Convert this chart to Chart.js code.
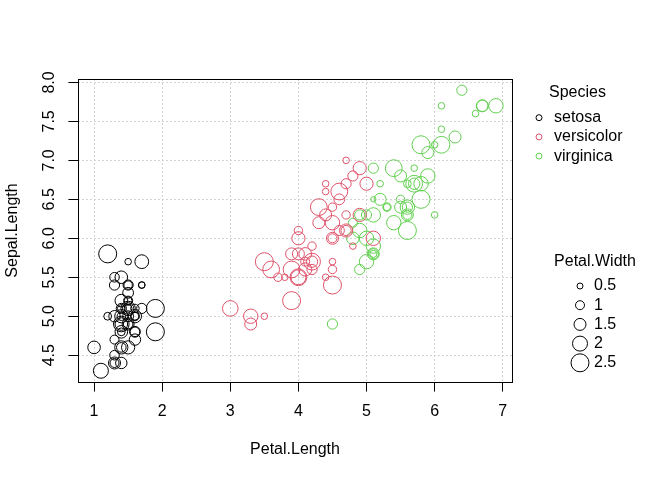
<!DOCTYPE html>
<html><head><meta charset="utf-8">
<script src="https://cdn.jsdelivr.net/npm/chart.js@4.4.0/dist/chart.umd.min.js"></script>
<style>html,body{margin:0;padding:0;background:#fff;}#wrap{width:672px;height:480px;}</style>
</head><body><div id="wrap"><canvas id="c" width="672" height="480"></canvas></div>
<script>
const speciesNames = ['setosa', 'versicolor', 'virginica'];
const speciesColors = ['#000000', '#DF536B', '#61D04F'];

const setosaPetalLength = [1.4,1.4,1.3,1.5,1.4,1.7,1.4,1.5,1.4,1.5,1.5,1.6,1.4,1.1,1.2,1.5,1.3,1.4,1.7,1.5,1.7,1.5,1.0,1.7,1.9,1.6,1.6,1.5,1.4,1.6,1.6,1.5,1.5,1.4,1.5,1.2,1.3,1.4,1.3,1.5,1.3,1.3,1.3,1.6,1.9,1.4,1.6,1.4,1.5,1.4];
const setosaSepalLength = [5.1,4.9,4.7,4.6,5.0,5.4,4.6,5.0,4.4,4.9,5.4,4.8,4.8,4.3,5.8,5.7,5.4,5.1,5.7,5.1,5.4,5.1,4.6,5.1,4.8,5.0,5.0,5.2,5.2,4.7,4.8,5.4,5.2,5.5,4.9,5.0,5.5,4.9,4.4,5.1,5.0,4.5,4.4,5.0,5.1,4.8,5.1,4.6,5.3,5.0];
const setosaSize = [1.2,1.6,1.0,1.7,1.7,0.6,1.7,1.3,1.4,1.1,1.2,1.1,0.8,2.0,2.5,0.6,1.2,0.8,1.8,1.4,0.6,1.9,1.6,1.2,2.5,0.8,1.7,1.0,1.6,1.4,1.3,0.9,0.8,1.6,1.5,0.8,1.1,2.1,1.5,0.8,1.4,1.1,1.0,1.0,2.5,1.6,0.9,1.1,1.3,0.9];

const versicolorPetalLength = [4.7,4.5,4.9,4.0,4.6,4.5,4.7,3.3,4.6,3.9,3.5,4.2,4.0,4.7,3.6,4.4,4.5,4.1,4.5,3.9,4.8,4.0,4.9,4.7,4.3,4.4,4.8,5.0,4.5,3.5,3.8,3.7,3.9,5.1,4.5,4.5,4.7,4.4,4.1,4.0,4.4,4.6,4.0,3.3,4.2,4.2,4.2,4.3,3.0,4.1];
const versicolorSepalLength = [7.0,6.4,6.9,5.5,6.5,5.7,6.3,4.9,6.6,5.2,5.0,5.9,6.0,6.1,5.6,6.7,5.6,5.8,6.2,5.6,5.9,6.1,6.3,6.1,6.4,6.6,6.8,6.7,6.0,5.7,5.5,5.5,5.8,6.0,5.4,6.0,6.7,6.3,5.6,5.5,5.5,6.1,5.8,5.0,5.6,5.7,5.7,6.2,5.1,5.7];
const versicolorSize = [0.6,0.9,1.7,2.0,1.3,0.6,0.9,1.5,2.3,2.5,0.6,0.9,1.7,1.7,2.3,0.6,0.9,1.6,1.9,2.3,0.6,0.9,1.7,1.2,2.3,0.6,1.2,1.7,1.5,2.5,0.6,0.9,1.5,1.9,2.5,1.0,1.2,1.5,1.7,2.3,0.6,1.2,1.5,1.9,1.2,2.3,1.4,1.5,2.1,1.0];

const virginicaPetalLength = [6.0,5.1,5.9,5.6,5.8,6.6,4.5,6.3,5.8,6.1,5.1,5.3,5.5,5.0,5.1,5.3,5.5,6.7,6.9,5.0,5.7,4.9,6.7,4.9,5.7,6.0,4.8,4.9,5.6,5.8,6.1,6.4,5.6,5.1,5.6,6.1,5.6,5.5,4.8,5.4,5.6,5.1,5.1,5.9,5.7,5.2,5.0,5.2,5.4,5.1];
const virginicaSepalLength = [6.3,5.8,7.1,6.3,6.5,7.6,4.9,7.3,6.7,7.2,6.5,6.4,6.8,5.7,5.8,6.4,6.5,7.7,7.7,6.0,6.9,5.6,7.7,6.3,6.7,7.2,6.2,6.1,6.4,7.2,7.4,7.9,6.4,6.3,6.1,7.7,6.3,6.4,6.0,6.9,6.7,6.9,5.8,6.8,6.7,6.7,6.3,6.5,6.2,5.9];
const virginicaSize = [0.6,1.5,1.5,1.5,2.5,0.6,1.2,1.5,1.9,2.3,0.4,0.9,1.5,1.9,1.2,0.7,0.9,1.5,1.9,1.9,0.6,1.2,1.4,1.2,2.3,0.6,1.0,1.9,1.9,2.5,0.6,1.2,1.2,1.9,2.5,0.6,1.0,1.5,1.6,2.3,0.8,1.2,0.7,1.9,1.4,0.6,1.2,1.5,1.9,1.9];

const xTicks = [1, 2, 3, 4, 5, 6, 7];
const yTicks = [4.5, 5.0, 5.5, 6.0, 6.5, 7.0, 7.5, 8.0];
const sizeLegendValues = [0.5, 1, 1.5, 2, 2.5];

const FONT = '"Liberation Sans", Arial, Helvetica, sans-serif';
const radiusOf = w => 1.5 + 3 * w;

function makeSet(i, xs, ys, sizes) {
  return {
    label: speciesNames[i],
    data: xs.map((x, k) => ({ x: x, y: ys[k] })),
    borderColor: speciesColors[i],
    backgroundColor: 'rgba(0,0,0,0)',
    pointBackgroundColor: 'rgba(0,0,0,0)',
    pointBorderColor: speciesColors[i],
    pointBorderWidth: 1,
    pointRadius: ctx => radiusOf(sizes[ctx.dataIndex]),
    pointHoverRadius: ctx => radiusOf(sizes[ctx.dataIndex]),
    showLine: false
  };
}

const decor = {
  id: 'decor',
  afterDatasetsDraw(chart) {
    const { ctx, chartArea: a } = chart;
    ctx.save();
    ctx.strokeStyle = '#000';
    ctx.lineWidth = 1;
    ctx.setLineDash([]);
    ctx.strokeRect(Math.round(a.left) + 0.5, Math.round(a.top) + 0.5,
      Math.round(a.right - a.left), Math.round(a.bottom - a.top));
    ctx.font = '16px ' + FONT;
    ctx.fillStyle = '#000';
    ctx.textBaseline = 'middle';
    ctx.textAlign = 'center';
    ctx.fillText('Species', 577.5, 93);
    ctx.textAlign = 'left';
    speciesNames.forEach((n, i) => {
      const y = 117.7 + i * 19.2;
      ctx.beginPath();
      ctx.strokeStyle = speciesColors[i];
      ctx.arc(539, y, 3, 0, Math.PI * 2);
      ctx.stroke();
      ctx.fillStyle = '#000';
      ctx.fillText(n, 554, y);
    });
    ctx.textAlign = 'center';
    ctx.fillText('Petal.Width', 595, 262);
    ctx.textAlign = 'left';
    sizeLegendValues.forEach((v, i) => {
      const y = 286 + i * 19.2;
      ctx.beginPath();
      ctx.strokeStyle = '#000';
      ctx.arc(580, y, radiusOf(v), 0, Math.PI * 2);
      ctx.stroke();
      ctx.fillText(String(v), 594, y);
    });
    ctx.restore();
  }
};

Chart.defaults.font.family = FONT;
Chart.defaults.font.size = 16;
Chart.defaults.color = '#000';

const gridOpts = { color: '#D3D3D3', tickColor: '#000', tickLength: 9.6, tickBorderDash: [], tickWidth: 1, lineWidth: 1 };
const borderOpts = { display: false, dash: [2, 2], color: '#000', width: 1 };

new Chart(document.getElementById('c'), {
  type: 'scatter',
  data: {
    datasets: [
      makeSet(0, setosaPetalLength, setosaSepalLength, setosaSize),
      makeSet(1, versicolorPetalLength, versicolorSepalLength, versicolorSize),
      makeSet(2, virginicaPetalLength, virginicaSepalLength, virginicaSize)
    ]
  },
  options: {
    responsive: false,
    animation: false,
    devicePixelRatio: 1,
    layout: { padding: { left: 0, top: 79, right: 160, bottom: 0 } },
    plugins: { legend: { display: false }, tooltip: { enabled: false } },
    scales: {
      x: {
        type: 'linear', min: 0.764, max: 7.136,
        afterBuildTicks: s => { s.ticks = xTicks.map(v => ({ value: v })); },
        afterFit: s => { s.height = 98; },
        ticks: { padding: 10, callback: v => String(v), color: '#000', maxRotation: 0, minRotation: 0, font: { size: 16 } },
        grid: gridOpts,
        border: borderOpts,
        title: { display: true, text: 'Petal.Length', color: '#000', font: { size: 16 }, padding: { top: 0, bottom: 21 } }
      },
      y: {
        type: 'linear', min: 4.156, max: 8.044,
        afterBuildTicks: s => { s.ticks = yTicks.map(v => ({ value: v })); },
        afterFit: s => { s.width = 78; },
        ticks: { padding: 8, crossAlign: 'center', minRotation: 90, maxRotation: 90, callback: v => Number(v).toFixed(1), color: '#000', font: { size: 16 } },
        grid: gridOpts,
        border: borderOpts,
        title: { display: true, text: 'Sepal.Length', color: '#000', font: { size: 16 }, padding: { top: 3, bottom: 0 } }
      }
    }
  },
  plugins: [decor]
});
</script>
</body></html>
